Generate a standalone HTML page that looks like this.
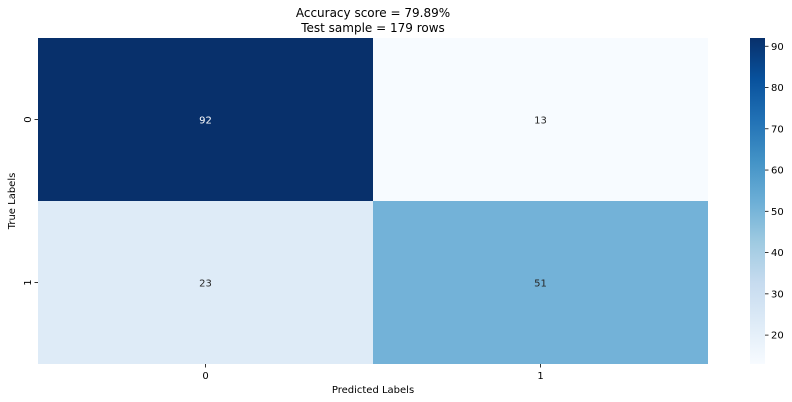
<!DOCTYPE html>
<html><head><meta charset="utf-8"><style>
html,body{margin:0;padding:0;background:#fff;}
svg{display:block;font-family:"DejaVu Sans","Liberation Sans",sans-serif;}
</style></head><body>
<svg id="chart" width="792" height="402" viewBox="0 0 792 402" xmlns="http://www.w3.org/2000/svg">
<defs><linearGradient id="cbgrad" x1="0" y1="1" x2="0" y2="0"></linearGradient></defs>
<text x="373" y="17" text-anchor="middle" font-size="12" fill="#000">Accuracy score = 79.89%</text>
<text x="373" y="32" text-anchor="middle" font-size="12" fill="#000">Test sample = 179 rows</text>
<g id="cells"></g>
<g id="xticks"></g>
<g id="yticks"></g>
<text x="373" y="393" text-anchor="middle" font-size="10">Predicted Labels</text>
<text transform="translate(15,201) rotate(-90)" text-anchor="middle" font-size="10">True Labels</text>
<rect x="750" y="38" width="15" height="326" fill="url(#cbgrad)"/>
<g id="cbticks"></g>
</svg>
<script>
const xCategories = ["0","1"];
const yCategories = ["0","1"];
const matrixValues = [[92,13],[23,51]];
const colorbarTicks = [20,30,40,50,60,70,80,90];
const vmin = 13, vmax = 92;

const NS="http://www.w3.org/2000/svg";
const L=38,R=708,T=38,B=364,CBT=38,CBB=364;
const stops=["#f7fbff","#deebf7","#c6dbef","#9ecae1","#6baed6","#4292c6","#2171b5","#08519c","#08306b"];
function hex(h){return [1,3,5].map(i=>parseInt(h.substr(i,2),16));}
function cmap(v){let t=Math.max(0,Math.min(1,(v-vmin)/(vmax-vmin)))*(stops.length-1);let i=Math.min(Math.floor(t),stops.length-2),f=t-i;const a=hex(stops[i]),b=hex(stops[i+1]);return "rgb("+a.map((c,k)=>Math.round(c+(b[k]-c)*f)).join(",")+")";}
const cw=(R-L)/xCategories.length, ch=(B-T)/yCategories.length;
const xs=i=>L+i*cw, ys=j=>T+j*ch;
const cbY=v=>CBB-(v-vmin)/(vmax-vmin)*(CBB-CBT);
function mk(tag,attrs,parent){const e=document.createElementNS(NS,tag);for(const k in attrs)e.setAttribute(k,attrs[k]);parent.appendChild(e);return e;}
const cells=document.getElementById("cells");
matrixValues.forEach((row,j)=>row.forEach((v,i)=>{
  const r=mk("rect",{x:xs(i),y:ys(j),width:cw,height:ch,fill:cmap(v)},cells);
  
  
  const t=mk("text",{x:xs(i)+cw/2,y:ys(j)+ch/2+4,"text-anchor":"middle","font-size":"10",fill:((v-vmin)/(vmax-vmin)>0.5?"#fff":"#262626")},cells);
  t.textContent=v;
  
  
}));
const xt=document.getElementById("xticks");
xCategories.forEach((c,i)=>{
  const x=xs(i)+cw/2;
  const l=mk("line",{x1:x,x2:x,y1:B,y2:B+3.5,stroke:"#000","stroke-width":"0.8"},xt);
  
  
  const t=mk("text",{x:x,y:B+15,"text-anchor":"middle","font-size":"10"},xt);
  t.textContent=c;
  
  
});
const yt=document.getElementById("yticks");
yCategories.forEach((c,j)=>{
  const y=ys(j)+ch/2;
  const l=mk("line",{x1:L-3.5,x2:L,y1:y,y2:y,stroke:"#000","stroke-width":"0.8"},yt);
  
  
  const t=mk("text",{transform:"translate("+(L-7)+","+y+") rotate(-90)","text-anchor":"middle","font-size":"10"},yt);
  t.textContent=c;
  
  
});
const g=document.getElementById("cbgrad");
stops.forEach((s,i)=>mk("stop",{offset:(i/(stops.length-1)),"stop-color":s},g));
const cb=document.getElementById("cbticks");
colorbarTicks.forEach(v=>{
  const y=cbY(v);
  const l=mk("line",{x1:765,x2:768.5,y1:y,y2:y,stroke:"#000","stroke-width":"0.8"},cb);
  
  
  const t=mk("text",{x:771,y:y+3.5,"font-size":"10"},cb);
  t.textContent=v;
  
  
});
</script>
</body></html>
